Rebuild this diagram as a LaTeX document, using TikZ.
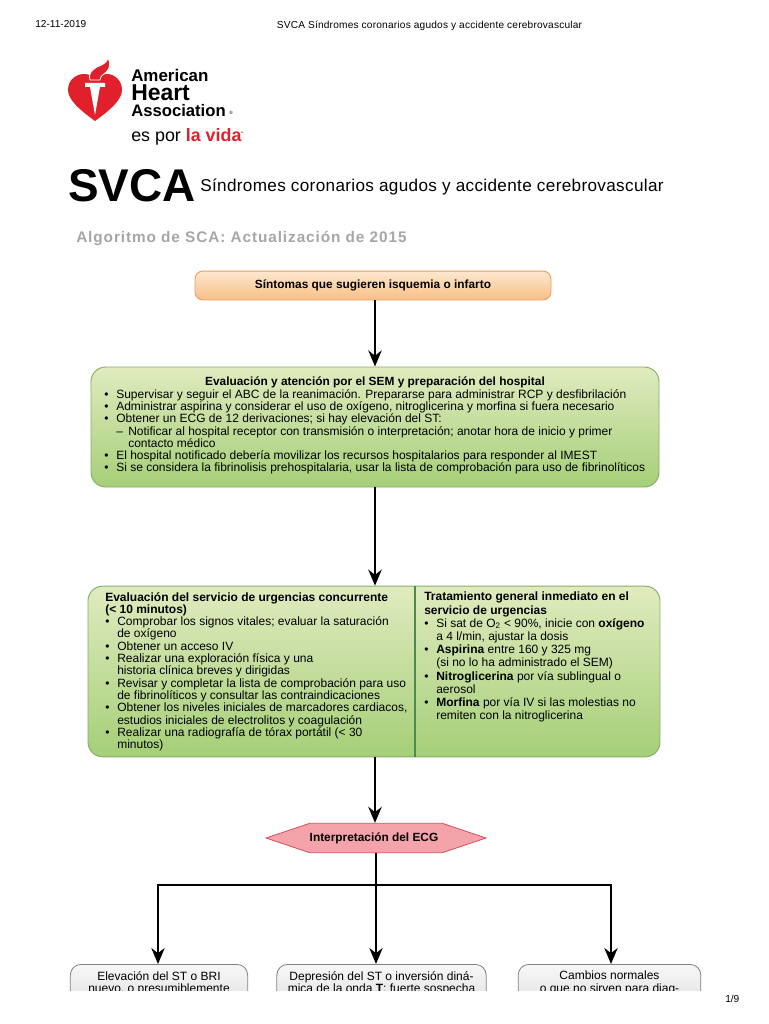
\documentclass[tikz,border=0pt]{standalone}
\usepackage{fontspec}
\setmainfont{Liberation Sans}
\usetikzlibrary{arrows.meta, shapes.symbols}
\definecolor{ahared}{HTML}{E0202A}
\definecolor{greentop}{HTML}{E0EBBF}
\definecolor{greenbot}{HTML}{A5CF78}
\definecolor{greenline}{HTML}{86AE66}
\definecolor{peachtop}{HTML}{FDE8D0}
\definecolor{peachbot}{HTML}{F9BE85}
\definecolor{peachline}{HTML}{E8A060}
\definecolor{pinkfill}{HTML}{F4A3AB}
\definecolor{pinkline}{HTML}{D8505E}
\newcommand{\itm}{\makebox[9pt][l]{\textbullet}}
\newcommand{\ind}{\hspace*{9pt}}
\begin{document}
\begin{tikzpicture}[
  x=0.75pt, y=-0.75pt,
  flow/.style={-{Stealth[length=12pt,width=10pt]}, line width=2.1pt, black},
  thinflow/.style={-{Stealth[length=12pt,width=10pt]}, line width=1.6pt, black},
  sint/.style={draw=peachline, top color=peachtop, bottom color=peachbot,
              rounded corners=6pt, minimum width=267pt, minimum height=21.7pt,
              line width=0.7pt, font=\fontsize{8.9}{9.2}\selectfont\bfseries},
  greenbox/.style={draw=greenline, top color=greentop, bottom color=greenbot,
              rounded corners=11pt, line width=0.7pt},
  ecgbox/.style={signal, signal to=west and east, signal pointer angle=37,
              draw=pinkline, fill=pinkfill, minimum width=163pt, minimum height=22pt,
              line width=0.6pt, inner sep=0pt, font=\fontsize{8.9}{9.2}\selectfont\bfseries},
  endbox/.style={draw=black!50, top color=black!3, bottom color=black!20, anchor=north,
              rounded corners=8pt, minimum height=60pt, line width=0.6pt},
  endtxt/.style={anchor=north, align=center, inner sep=0pt, font=\fontsize{9}{9.3}\selectfont},
  body/.style={anchor=north west, align=left, inner sep=0pt, font=\fontsize{9}{9.23}\selectfont},
  head/.style={anchor=west, inner sep=0pt, font=\fontsize{7.6}{9}\selectfont},
]
\useasboundingbox (0,0) rectangle (768,1024);

%% Page header and footer
\node[head] (date) at (35,24) {12-11-2019};
\node[head, anchor=center] (pagetitle) at (429.5,25.5) {\addfontfeature{LetterSpace=2}SVCA Síndromes coronarios agudos y accidente cerebrovascular};
\node[head] (pagenum) at (725,999) {1/9};

%% Logo
\fill[ahared] (95,121) .. controls (80,110) and (68,100) .. (68,90)
  .. controls (68,80) and (76,74) .. (84,74) .. controls (89,74) and (93,76) .. (95,79)
  .. controls (97,76) and (102,74) .. (107,74) .. controls (115,74) and (122,81) .. (122,90)
  .. controls (122,100) and (110,110) .. (95,121) -- cycle;
\fill[white] (85,83) -- (105,83) -- (105,87) -- (100,87) -- (95,115) -- (90,87) -- (85,87) -- cycle;
\fill[ahared, draw=white, line width=0.6pt] (90,80) .. controls (88,72) and (93,70) .. (97,67)
  .. controls (102,65) and (107,63) .. (108,58) .. controls (112,66) and (108,71) .. (104,74)
  .. controls (101,76) and (100,78) .. (100,80) -- cycle;
\node[head, font=\fontsize{12.7}{13}\selectfont\bfseries] (american) at (131,75) {American};
\node[head, font=\fontsize{17.2}{18}\selectfont\bfseries] (heart) at (131,93) {Heart};
\node[head, font=\fontsize{12.5}{13}\selectfont\bfseries] (assoc) at (131,111) {Association};
\node[head, font=\fontsize{3.5}{4}\selectfont] (regmark) at (229,112.5) {®};
\node[head, font=\fontsize{13.4}{14}\selectfont] (lavida) at (131,137) {es por \textcolor{ahared}{\textbf{la vida}}};
\node[head, font=\fontsize{2.5}{3}\selectfont] (tmark) at (240,133) {™};

%% Titles
\node[head, font=\fontsize{34.4}{36}\selectfont\bfseries] (svca) at (68,186) {SVCA};
\node[head, font=\fontsize{12.85}{14}\selectfont] (subtitle) at (200,187) {\addfontfeature{LetterSpace=2}Síndromes coronarios agudos y accidente cerebrovascular};
\node[head, font=\fontsize{11.5}{12}\selectfont\bfseries, text=black!35] (algo) at (76,238.5) {\addfontfeature{LetterSpace=6}Algoritmo de SCA: Actualización de 2015};

%% Boxes
\node[sint] (sintomas) at (373,285.5) {Síntomas que sugieren isquemia o infarto};
\node[greenbox, minimum width=426pt, minimum height=90pt] (sem) at (375,427) {};
\node[greenbox, minimum width=429pt, minimum height=128pt] (urg) at (374,671.5) {};
\node[ecgbox] (ecg) at (376,838) {\raisebox{-1.5pt}{Interpretación del ECG\hspace{3pt}}};

%% Split of the second box
\coordinate (cut1) at (415,586);
\coordinate (cut2) at (415,757);
\draw[green!35!black!70, line width=0.8pt] (cut1) -- (cut2);

%% Box texts
\node[anchor=north, inner sep=0pt, font=\fontsize{8.9}{9.2}\selectfont\bfseries] (semhead) at (375,377) {Evaluación y atención por el SEM y preparación del hospital};
\node[body] (semtxt) at (104,389) {\itm Supervisar y seguir el ABC de la reanimación. Prepararse para administrar RCP y desfibrilación\\
\itm Administrar aspirina y considerar el uso de oxígeno, nitroglicerina y morfina si fuera necesario\\
\itm Obtener un ECG de 12 derivaciones; si hay elevación del ST:\\
\ind\makebox[9pt][l]{--}Notificar al hospital receptor con transmisión o interpretación; anotar hora de inicio y primer\\
\ind\ind contacto médico\\
\itm El hospital notificado debería movilizar los recursos hospitalarios para responder al IMEST\\
\itm Si se considera la fibrinolisis prehospitalaria, usar la lista de comprobación para uso de fibrinolíticos};
\node[body] (urgleft) at (105,592) {\textbf{Evaluación del servicio de urgencias concurrente}\\
\textbf{(< 10 minutos)}\\
\itm Comprobar los signos vitales; evaluar la saturación\\
\ind de oxígeno\\
\itm Obtener un acceso IV\\
\itm Realizar una exploración física y una\\
\ind historia clínica breves y dirigidas\\
\itm Revisar y completar la lista de comprobación para uso\\
\ind de fibrinolíticos y consultar las contraindicaciones\\
\itm Obtener los niveles iniciales de marcadores cardiacos,\\
\ind estudios iniciales de electrolitos y coagulación\\
\itm Realizar una radiografía de tórax portátil (< 30\\
\ind minutos)};
\node[body, font=\fontsize{9}{9.9}\selectfont] (urgright) at (424,592) {\textbf{Tratamiento general inmediato en el}\\
\textbf{servicio de urgencias}\\
\itm Si sat de O\textsubscript{2} < 90\%, inicie con \textbf{oxígeno}\\
\ind a 4 l/min, ajustar la dosis\\
\itm \textbf{Aspirina} entre 160 y 325 mg\\
\ind (si no lo ha administrado el SEM)\\
\itm \textbf{Nitroglicerina} por vía sublingual o\\
\ind aerosol\\
\itm \textbf{Morfina} por vía IV si las molestias no\\
\ind remiten con la nitroglicerina};

%% Bottom row, cut off by the page
\begin{scope}
\clip (0,0) rectangle (768,990);
\node[endbox, minimum width=133pt] (elev) at (159,964) {};
\node[endbox, minimum width=157pt] (depr) at (381.5,964) {};
\node[endbox, minimum width=137pt] (norm) at (609.5,964) {};
\node[endtxt] (elevtxt) at (159,971) {Elevación del ST o BRI\\nuevo, o presumiblemente};
\node[endtxt] (deprtxt) at (381.5,971) {Depresión del ST o inversión diná-\\mica de la onda \textbf{T}: fuerte sospecha};
\node[endtxt] (normtxt) at (609.5,971) {Cambios normales\\o que no sirven para diag-};
\end{scope}

%% Connectors
\draw[flow] (sintomas.south -| sem.north) -- (sem.north);
\draw[flow] (sem.south) -- (sem.south |- urg.north);
\draw[flow] (sem.south |- urg.south) -- (sem.south |- ecg.north);
\coordinate (branch) at (ecg.south |- 0,885);
\draw[thinflow] (ecg.south) -- (ecg.south |- depr.north);
\draw[thinflow] (branch) -| (elev.north -| 158,0);
\draw[thinflow] (branch) -| (norm.north -| 611,0);
\end{tikzpicture}
\end{document}
